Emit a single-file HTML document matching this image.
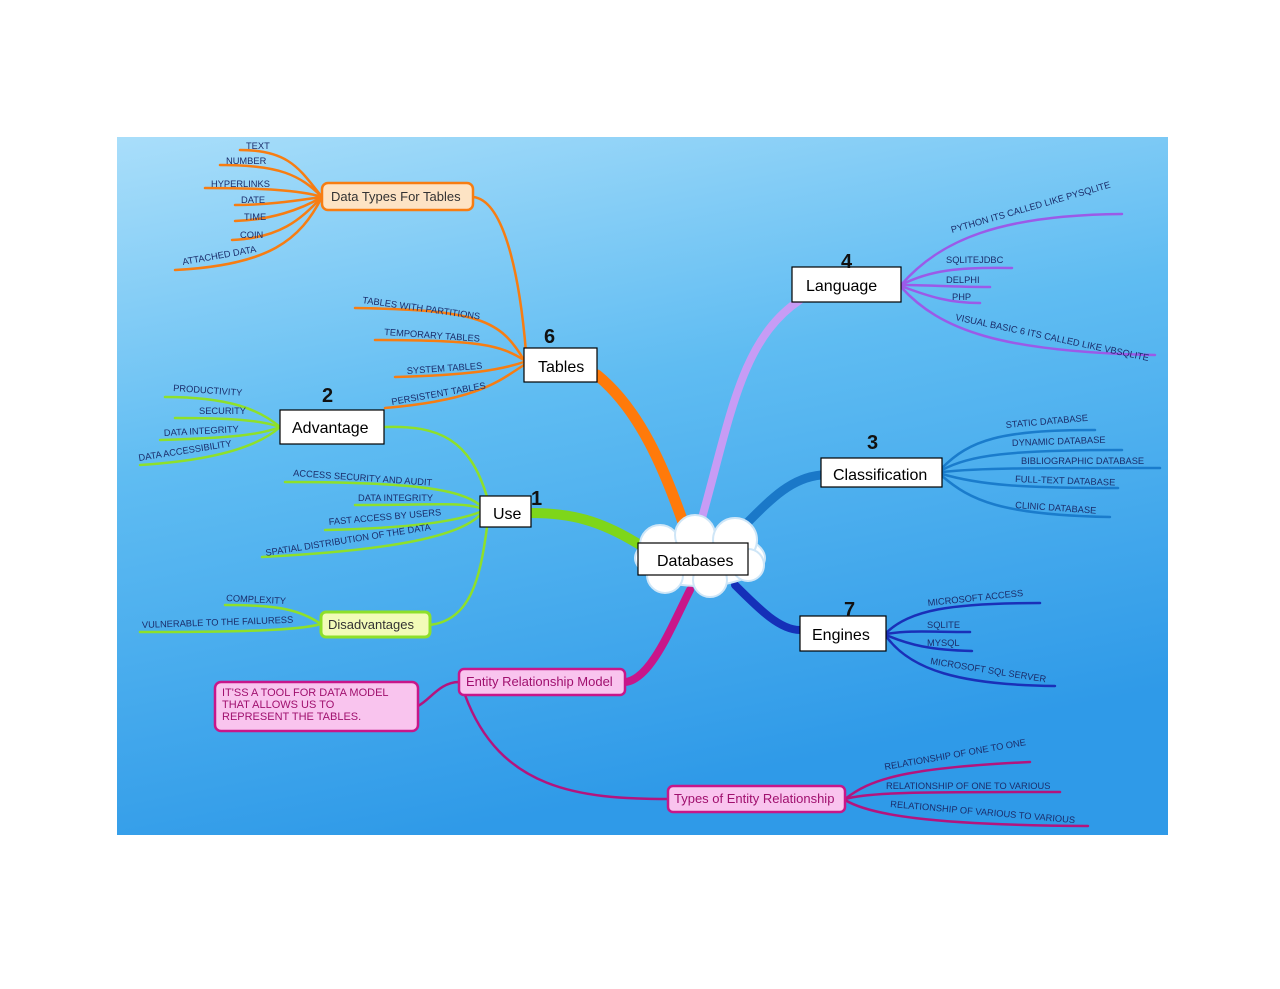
<!DOCTYPE html>
<html><head><meta charset="utf-8"><style>
html,body{margin:0;padding:0;background:#fff;width:1280px;height:989px;overflow:hidden}
svg{display:block}
.l{font-family:"Liberation Sans",sans-serif;font-size:9.3px;fill:#1b2d6b}
.n{font-family:"Liberation Sans",sans-serif;font-size:16px;fill:#000}
.num{font-family:"Liberation Sans",sans-serif;font-size:20px;font-weight:bold;fill:#111}
.s{font-family:"Liberation Sans",sans-serif;font-size:13px}
</style></head><body>
<svg width="1280" height="989" viewBox="0 0 1280 989">
<defs>
<linearGradient id="bg" x1="0" y1="0" x2="0.3" y2="1">
<stop offset="0" stop-color="#a9defa"/><stop offset="0.45" stop-color="#5fbcf2"/><stop offset="1" stop-color="#2f9ae8"/>
</linearGradient>
</defs>
<rect width="1280" height="989" fill="#fff"/>
<rect x="117" y="137" width="1051" height="698" fill="url(#bg)"/>

<g fill="none" stroke-linecap="round">
<path d="M597,375 C640,410 665,470 685,528" stroke="#ff7a0a" stroke-width="11"/>
<path d="M700,525 C730,420 740,340 800,300" stroke="#c79cf5" stroke-width="8"/>
<path d="M740,530 C770,500 790,478 821,475" stroke="#1a78c8" stroke-width="9"/>
<path d="M735,585 C760,610 780,630 800,630" stroke="#1530b8" stroke-width="8"/>
<path d="M640,545 C600,520 570,513 531,513" stroke="#7ed61a" stroke-width="10"/>
<path d="M690,590 C670,630 650,680 625,682" stroke="#c8168a" stroke-width="8"/>
<g stroke="#f77d12" stroke-width="2.5">
<path d="M526,352 C520,280 505,200 473,197"/>
<path d="M322,197 C300,170 290,150 240,150"/>
<path d="M322,197 C300,175 280,165 220,165"/>
<path d="M322,197 C300,190 260,188 205,188"/>
<path d="M322,197 C300,200 270,205 235,205"/>
<path d="M322,197 C300,210 270,220 235,221"/>
<path d="M322,197 C300,220 280,238 232,240"/>
<path d="M322,197 C300,240 270,265 175,270"/>
<path d="M524,360 C500,320 480,310 355,308"/>
<path d="M524,360 C500,345 480,340 375,340"/>
<path d="M524,362 C500,370 470,375 395,377"/>
<path d="M524,365 C500,380 480,400 385,408"/>
</g>
<g stroke="#8ee02a" stroke-width="2.5">
<path d="M384,427 C440,425 470,440 487,497"/>
<path d="M487,527 C480,580 470,620 430,625"/>
<path d="M280,427 C260,410 230,397 165,397"/>
<path d="M280,427 C260,420 230,418 175,418"/>
<path d="M280,427 C260,435 230,438 160,440"/>
<path d="M280,427 C260,445 220,460 140,465"/>
<path d="M480,505 C460,490 420,482 285,482"/>
<path d="M480,508 C460,502 440,505 355,505"/>
<path d="M480,512 C460,520 420,528 325,530"/>
<path d="M480,515 C460,535 400,550 262,557"/>
<path d="M321,624 C300,610 280,605 225,605"/>
<path d="M321,624 C300,630 250,632 140,632"/>
</g>
<g stroke="#b3147e" stroke-width="2.5">
<path d="M465,695 C500,790 580,799 668,799"/>
<path d="M459,682 C440,682 430,700 418,706"/>
<path d="M845,799 C870,780 900,768 1030,762"/>
<path d="M845,799 C870,792 920,792 1060,792"/>
<path d="M845,800 C870,815 930,825 1088,826"/>
</g>
<g stroke="#9b5ae8" stroke-width="2.5">
<path d="M901,285 C940,240 1000,215 1122,214"/>
<path d="M901,285 C930,270 960,267 1012,268"/>
<path d="M901,285 C930,285 950,287 990,287"/>
<path d="M901,286 C930,297 950,303 980,303"/>
<path d="M901,287 C940,330 1000,352 1155,355"/>
</g>
<g stroke="#1a7ccc" stroke-width="2.5">
<path d="M942,468 C970,440 1000,430 1095,430"/>
<path d="M942,470 C970,455 1010,450 1122,450"/>
<path d="M942,472 C980,468 1020,468 1160,468"/>
<path d="M942,474 C980,485 1020,488 1118,488"/>
<path d="M942,476 C970,500 1000,515 1110,517"/>
</g>
<g stroke="#1a30b8" stroke-width="2.5">
<path d="M886,633 C910,610 950,603 1040,603"/>
<path d="M886,634 C910,630 930,632 970,632"/>
<path d="M886,635 C910,645 930,650 972,651"/>
<path d="M886,636 C910,670 960,685 1055,686"/>
</g>
</g>

<g fill="#fff" stroke="#cfe6f7" stroke-width="2">
<ellipse cx="700" cy="558" rx="65" ry="28"/>
<circle cx="660" cy="545" r="20"/><circle cx="695" cy="535" r="20"/><circle cx="735" cy="540" r="22"/>
<circle cx="665" cy="575" r="18"/><circle cx="710" cy="580" r="17"/><circle cx="748" cy="565" r="16"/>
</g>
<g stroke="#000" stroke-width="1.2" fill="#fff">
<rect x="638" y="543" width="110" height="32"/>
<rect x="524" y="348" width="73" height="34"/>
<rect x="480" y="496" width="51" height="31"/>
<rect x="280" y="410" width="104" height="34"/>
<rect x="792" y="267" width="109" height="35"/>
<rect x="821" y="458" width="121" height="29"/>
<rect x="800" y="616" width="86" height="35"/>
</g>
<text class="n" x="657" y="566">Databases</text>
<text class="n" x="538" y="372">Tables</text>
<text class="n" x="493" y="519">Use</text>
<text class="n" x="292" y="433">Advantage</text>
<text class="n" x="806" y="291">Language</text>
<text class="n" x="833" y="480">Classification</text>
<text class="n" x="812" y="640">Engines</text>
<text class="num" x="544" y="343">6</text>
<text class="num" x="531" y="505">1</text>
<text class="num" x="322" y="402">2</text>
<text class="num" x="841" y="268">4</text>
<text class="num" x="867" y="449">3</text>
<text class="num" x="844" y="616">7</text>

<rect x="322" y="183" width="151" height="27" rx="6" fill="#fde3c4" stroke="#f77d12" stroke-width="2.5"/>
<text class="s" x="331" y="201" fill="#333">Data Types For Tables</text>
<rect x="321" y="612" width="109" height="25" rx="5" fill="#f2fbb8" stroke="#8ee02a" stroke-width="3"/>
<text class="s" x="328" y="629" fill="#333">Disadvantages</text>
<rect x="459" y="669" width="166" height="26" rx="5" fill="#f9c4ee" stroke="#c8168a" stroke-width="2.5"/>
<text class="s" x="466" y="686" fill="#a0106e">Entity Relationship Model</text>
<rect x="668" y="786" width="177" height="26" rx="5" fill="#f9c4ee" stroke="#c8168a" stroke-width="2.5"/>
<text class="s" x="674" y="803" fill="#a0106e">Types of Entity Relationship</text>
<rect x="215" y="682" width="203" height="49" rx="6" fill="#f9c4ee" stroke="#c8168a" stroke-width="2.5"/>
<g font-family="Liberation Sans,sans-serif" font-size="11" fill="#a0106e">
<text x="222" y="696">IT'SS A TOOL FOR DATA MODEL</text>
<text x="222" y="708">THAT ALLOWS US TO</text>
<text x="222" y="720">REPRESENT THE TABLES.</text>
</g>

<g>
<text class="l" x="246" y="149">TEXT</text>
<text class="l" x="226" y="164">NUMBER</text>
<text class="l" x="211" y="187">HYPERLINKS</text>
<text class="l" x="241" y="203">DATE</text>
<text class="l" x="244" y="220">TIME</text>
<text class="l" x="240" y="238">COIN</text>
<text class="l" x="183" y="265" transform="rotate(-10 183 265)">ATTACHED DATA</text>
<text class="l" x="362" y="303" transform="rotate(8 362 303)">TABLES WITH PARTITIONS</text>
<text class="l" x="384" y="335" transform="rotate(4 384 335)">TEMPORARY TABLES</text>
<text class="l" x="407" y="374" transform="rotate(-4 407 374)">SYSTEM TABLES</text>
<text class="l" x="392" y="405" transform="rotate(-10 392 405)">PERSISTENT TABLES</text>
<text class="l" x="173" y="391" transform="rotate(4 173 391)">PRODUCTIVITY</text>
<text class="l" x="199" y="414">SECURITY</text>
<text class="l" x="164" y="436" transform="rotate(-3 164 436)">DATA INTEGRITY</text>
<text class="l" x="139" y="461" transform="rotate(-9 139 461)">DATA ACCESSIBILITY</text>
<text class="l" x="293" y="476" transform="rotate(4 293 476)">ACCESS SECURITY AND AUDIT</text>
<text class="l" x="358" y="501">DATA INTEGRITY</text>
<text class="l" x="329" y="525" transform="rotate(-5 329 525)">FAST ACCESS BY USERS</text>
<text class="l" x="266" y="556" transform="rotate(-9 266 556)">SPATIAL DISTRIBUTION OF THE DATA</text>
<text class="l" x="226" y="601" transform="rotate(3 226 601)">COMPLEXITY</text>
<text class="l" x="142" y="628" transform="rotate(-2 142 628)">VULNERABLE TO THE FAILURESS</text>
<text class="l" x="952" y="233" transform="rotate(-16 952 233)">PYTHON ITS CALLED LIKE PYSQLITE</text>
<text class="l" x="946" y="263">SQLITEJDBC</text>
<text class="l" x="946" y="283">DELPHI</text>
<text class="l" x="952" y="300">PHP</text>
<text class="l" x="955" y="320" transform="rotate(12 955 320)">VISUAL BASIC 6 ITS CALLED LIKE VBSQLITE</text>
<text class="l" x="1006" y="428" transform="rotate(-5 1006 428)">STATIC DATABASE</text>
<text class="l" x="1012" y="446" transform="rotate(-2 1012 446)">DYNAMIC DATABASE</text>
<text class="l" x="1021" y="464">BIBLIOGRAPHIC DATABASE</text>
<text class="l" x="1015" y="482" transform="rotate(2 1015 482)">FULL-TEXT DATABASE</text>
<text class="l" x="1015" y="508" transform="rotate(4 1015 508)">CLINIC DATABASE</text>
<text class="l" x="928" y="606" transform="rotate(-6 928 606)">MICROSOFT ACCESS</text>
<text class="l" x="927" y="628">SQLITE</text>
<text class="l" x="927" y="646">MYSQL</text>
<text class="l" x="930" y="664" transform="rotate(9 930 664)">MICROSOFT SQL SERVER</text>
<text class="l" x="885" y="770" transform="rotate(-10 885 770)">RELATIONSHIP OF ONE TO ONE</text>
<text class="l" x="886" y="789">RELATIONSHIP OF ONE TO VARIOUS</text>
<text class="l" x="890" y="807" transform="rotate(5 890 807)">RELATIONSHIP OF VARIOUS TO VARIOUS</text>
</g>
</svg>
</body></html>
